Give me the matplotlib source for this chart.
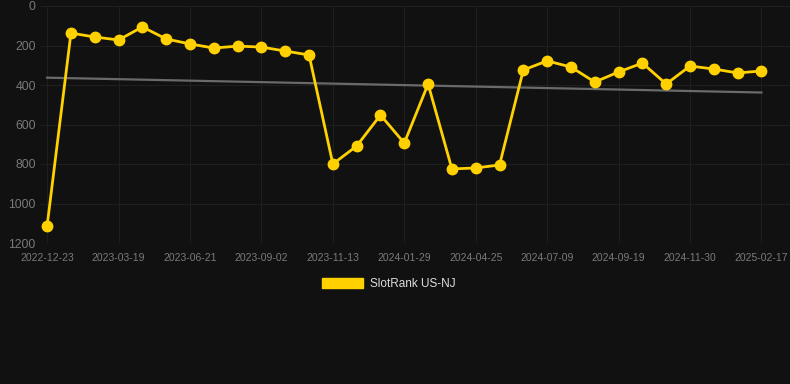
import matplotlib
matplotlib.use("Agg")
import matplotlib.pyplot as plt
from matplotlib.patches import Patch

# rank values, one per period (lower is better, axis inverted)
ranks = [1112, 137, 157, 172, 106, 167, 192, 213, 203, 208, 228, 248,
         800, 709, 552, 694, 395, 825, 820, 805,
         324, 278, 309, 385, 334, 289, 395, 304, 319, 339, 329]
tick_labels = ["2022-12-23", "2023-03-19", "2023-06-21", "2023-09-02",
               "2023-11-13", "2024-01-29", "2024-04-25", "2024-07-09",
               "2024-09-19", "2024-11-30", "2025-02-17"]
trend_ends = [363, 438]
y_ticks = [0, 200, 400, 600, 800, 1000, 1200]

BG = "#111111"
GOLD = "#FFD100"
plt.rcParams["font.family"] = ["Liberation Sans", "DejaVu Sans"]

fig = plt.figure(figsize=(7.9, 3.84), dpi=100, facecolor=BG)
ax = fig.add_axes([40 / 790, 1 - 243 / 384, 750 / 790, 237 / 384])
ax.set_facecolor(BG)

x = list(range(len(ranks)))
ax.plot([x[0], x[-1]], trend_ends, color="#6a6a6a", lw=1.6, zorder=2)
ax.plot(x, ranks, color=GOLD, lw=2.0, marker="o", markersize=7.5, zorder=3)

ax.set_xlim(-0.3, 31.2)
ax.set_ylim(1200, 0)
ax.set_yticks(y_ticks)
ax.set_xticks(x[::3])
ax.set_xticklabels(tick_labels)
ax.tick_params(axis="x", length=0, labelsize=7.5, colors="#7a7a7a", pad=7)
ax.tick_params(axis="y", length=0, labelsize=8.8, colors="#7a7a7a", pad=3)
ax.grid(True, color="#1f1f1f", lw=0.8)
ax.set_axisbelow(True)
for s in ax.spines.values():
    s.set_visible(False)

handle = Patch(facecolor=GOLD, edgecolor=GOLD)
leg = fig.legend([handle], ["SlotRank US-NJ"], loc="center",
                 bbox_to_anchor=(389 / 790, 1 - 284 / 384), frameon=False,
                 fontsize=8.5, handlelength=3.5, handleheight=1.0,
                 handletextpad=0.6)
for t in leg.get_texts():
    t.set_color("#dddddd")

fig.savefig("out.png", dpi=100, facecolor=BG)
